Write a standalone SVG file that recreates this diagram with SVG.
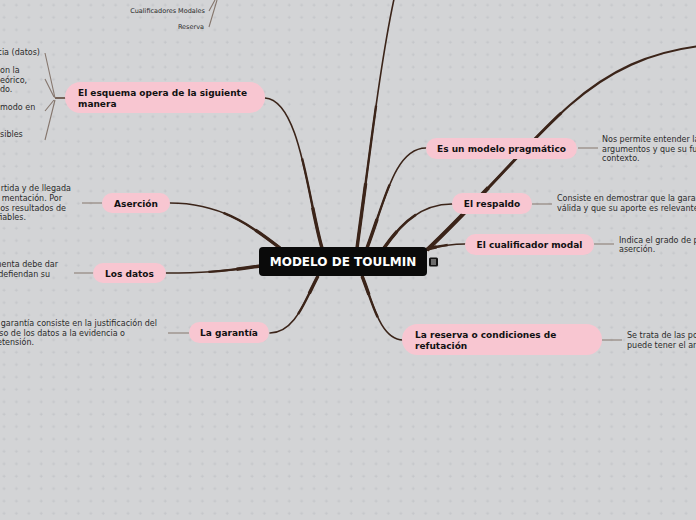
<svg xmlns="http://www.w3.org/2000/svg" xmlns:xlink="http://www.w3.org/1999/xlink" width="696" height="520" viewBox="0 0 696 520">
<defs>
<pattern id="grid" x="0" y="0" width="12.4" height="12.4" patternUnits="userSpaceOnUse">
<rect width="12.4" height="12.4" fill="#d3d4d6"/>
<path d="M4 3.5v3M2.5 5h3" stroke="#c4c5c8" stroke-width="0.9"/>
</pattern>
<path id="c1" pathLength="100" d="M322 248C308 200 300 100 265 98"/>
<path id="c2" pathLength="100" d="M357 248C368 170 380 60 396 -10"/>
<path id="c3" pathLength="100" d="M367 248C385 200 395 148 426 148"/>
<path id="c4" pathLength="100" d="M384 248C400 225 420 204 452 204"/>
<path id="c5" pathLength="100" d="M427 250C480 200 530 140 570 105S650 52 700 46"/>
<path id="c6" pathLength="100" d="M427 249C440 246 450 244 465 244"/>
<path id="c7" pathLength="100" d="M362 276C372 300 380 340 403 340"/>
<path id="c8" pathLength="100" d="M318 276C305 300 295 333 270 333"/>
<path id="c9" pathLength="100" d="M260 266C220 272 200 273 166 273"/>
<path id="c10" pathLength="100" d="M280 248C250 225 220 203 170 203"/>
<style>
.m1{fill:none;stroke:#3b2419;stroke-width:1.6;stroke-linecap:round}
.m2{fill:none;stroke:#3b2419;stroke-width:2.4;stroke-dasharray:55 200}
.m3{fill:none;stroke:#3b2419;stroke-width:3.4;stroke-dasharray:25 200}
.thin{fill:none;stroke:#85766d;stroke-width:1.1}
.sub{fill:none;stroke:#6b564b;stroke-width:1.8}
.pill{fill:#f8c6d1}
.nt{font-family:"DejaVu Sans",Verdana,sans-serif;font-weight:bold;font-size:9px;fill:#111}
.dt{font-family:"DejaVu Sans",Verdana,sans-serif;font-size:8px;fill:#2b2b2b}
.st{font-family:"DejaVu Sans",Verdana,sans-serif;font-size:6.5px;fill:#2b2b2b}
</style>
</defs>
<rect width="696" height="520" fill="url(#grid)"/>

<g id="connectors">
<use xlink:href="#c1" class="m1"/><use xlink:href="#c1" class="m2"/><use xlink:href="#c1" class="m3"/>
<use xlink:href="#c2" class="m1"/><use xlink:href="#c2" class="m2"/><use xlink:href="#c2" class="m3"/>
<use xlink:href="#c3" class="m1"/><use xlink:href="#c3" class="m2"/><use xlink:href="#c3" class="m3"/>
<use xlink:href="#c4" class="m1"/><use xlink:href="#c4" class="m2"/><use xlink:href="#c4" class="m3"/>
<use xlink:href="#c5" class="m1" style="stroke-width:2.2"/><use xlink:href="#c5" class="m2" style="stroke-width:3"/><use xlink:href="#c5" class="m3" style="stroke-width:4"/>
<use xlink:href="#c6" class="m1"/><use xlink:href="#c6" class="m2"/><use xlink:href="#c6" class="m3"/>
<use xlink:href="#c7" class="m1"/><use xlink:href="#c7" class="m2"/><use xlink:href="#c7" class="m3"/>
<use xlink:href="#c8" class="m1"/><use xlink:href="#c8" class="m2"/><use xlink:href="#c8" class="m3"/>
<use xlink:href="#c9" class="m1"/><use xlink:href="#c9" class="m2"/><use xlink:href="#c9" class="m3"/>
<use xlink:href="#c10" class="m1"/><use xlink:href="#c10" class="m2"/><use xlink:href="#c10" class="m3"/>
<path class="sub" d="M55 98H66"/>
<path class="thin" d="M55 98L45 53M54 97L45 79M54 100L45 111M55 100L45 140"/>
<path class="thin" d="M209 11L215 0M209 27L217 0"/>
<path class="thin" d="M82 203H102M74 273H94M168 333H189M578 148H598M532 204H552M594 244H614M602 340H622"/>
</g>

<g id="center">
<rect x="259" y="247" width="168" height="29" rx="4" fill="#0a0a0a"/>
<text x="343" y="266" text-anchor="middle" style="font-family:'DejaVu Sans',Verdana,sans-serif;font-weight:bold;font-size:12px;fill:#fff">MODELO DE TOULMIN</text>
<rect x="429" y="257.5" width="9" height="9" rx="1.5" fill="#111"/>
<path d="M431 260h5M431 262h5M431 264h5" stroke="#ddd" stroke-width="0.9"/>
</g>

<g id="esquema">
<rect class="pill" x="65" y="82" width="200" height="31" rx="15.5"/>
<text class="nt" x="78" y="96">El esquema opera de la siguiente</text>
<text class="nt" x="78" y="107">manera</text>
<text class="dt" x="40" y="55" text-anchor="end">cia (datos)</text>
<text class="dt" x="0" y="73">on la</text>
<text class="dt" x="0" y="83">eórico,</text>
<text class="dt" x="0" y="92">do.</text>
<text class="dt" x="0" y="110">modo en</text>
<text class="dt" x="0" y="137">sibles</text>
<text class="st" x="205" y="13" text-anchor="end">Cualificadores Modales</text>
<text class="st" x="204" y="29" text-anchor="end">Reserva</text>
</g>

<g id="asercion">
<rect class="pill" x="102" y="193" width="68" height="20" rx="10"/>
<text class="nt" x="136" y="206.5" text-anchor="middle">Aserción</text>
<text class="dt" x="71" y="191" text-anchor="end">rtida y de llegada</text>
<text class="dt" x="62" y="201" text-anchor="end">mentación. Por</text>
<text class="dt" x="66" y="210.5" text-anchor="end">os resultados de</text>
<text class="dt" x="26" y="220" text-anchor="end">fiables.</text>
</g>

<g id="datos">
<rect class="pill" x="93" y="263" width="73" height="20" rx="10"/>
<text class="nt" x="129.5" y="276.5" text-anchor="middle">Los datos</text>
<text class="dt" x="58" y="267" text-anchor="end">menta debe dar</text>
<text class="dt" x="50" y="276.5" text-anchor="end">defiendan su</text>
</g>

<g id="garantia">
<rect class="pill" x="189" y="322" width="80" height="21" rx="10.5"/>
<text class="nt" x="229" y="336" text-anchor="middle">La garantía</text>
<text class="dt" x="157" y="326" text-anchor="end">garantía consiste en la justificación del</text>
<text class="dt" x="125" y="335.5" text-anchor="end">so de los datos a la evidencia o</text>
<text class="dt" x="34" y="345" text-anchor="end">etensión.</text>
</g>

<g id="pragmatico">
<rect class="pill" x="426" y="138" width="151" height="21" rx="10.5"/>
<text class="nt" x="501.5" y="152" text-anchor="middle">Es un modelo pragmático</text>
<text class="dt" x="602" y="142">Nos permite entender la</text>
<text class="dt" x="602" y="151.5">argumentos y que su fun</text>
<text class="dt" x="602" y="161">contexto.</text>
</g>

<g id="respaldo">
<rect class="pill" x="452" y="193" width="80" height="21" rx="10.5"/>
<text class="nt" x="492" y="207" text-anchor="middle">El respaldo</text>
<text class="dt" x="557" y="201">Consiste en demostrar que la garan</text>
<text class="dt" x="557" y="211">válida y que su aporte es relevante</text>
</g>

<g id="cualificador">
<rect class="pill" x="465" y="234" width="129" height="21" rx="10.5"/>
<text class="nt" x="529.5" y="248" text-anchor="middle">El cualificador modal</text>
<text class="dt" x="619" y="243">Indica el grado de p</text>
<text class="dt" x="619" y="252">aserción.</text>
</g>

<g id="reserva">
<rect class="pill" x="402" y="324" width="200" height="31" rx="15.5"/>
<text class="nt" x="415" y="338">La reserva o condiciones de</text>
<text class="nt" x="415" y="349">refutación</text>
<text class="dt" x="627" y="338">Se trata de las pos</text>
<text class="dt" x="627" y="347.5">puede tener el arg</text>
</g>
</svg>
